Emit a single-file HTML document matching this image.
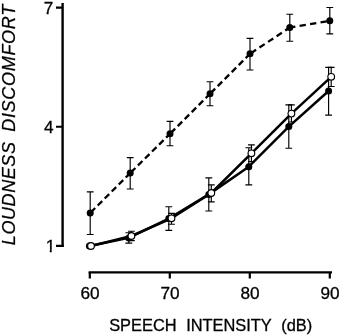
<!DOCTYPE html>
<html><head><meta charset="utf-8"><title>chart</title><style>html,body{margin:0;padding:0;background:#fff}</style></head><body>
<svg width="340" height="336" viewBox="0 0 340 336" style="display:block">
<rect width="340" height="336" fill="#fff"/>
<path d="M62.6 3V247M88.6 272.4H332" stroke="#000" stroke-width="2.4" fill="none"/>
<path d="M56 7.6H62.6M56 126.8H62.6M56 245.9H63.8" stroke="#000" stroke-width="2.1" fill="none"/>
<path d="M89.8 272.2V278.5M169.8 272.2V278.5M249.8 272.2V278.5M329.8 272.2V278.5" stroke="#000" stroke-width="2.2" fill="none"/>
<path d="M90.2 191.8V234.5M86.8 191.8H93.6M86.8 234.5H93.6" stroke="#000" stroke-width="1.15" fill="none"/>
<path d="M130.2 157.6V189.0M126.8 157.6H133.6M126.8 189.0H133.6" stroke="#000" stroke-width="1.15" fill="none"/>
<path d="M170.0 121.4V145.7M166.6 121.4H173.4M166.6 145.7H173.4" stroke="#000" stroke-width="1.15" fill="none"/>
<path d="M210.0 81.7V105.7M206.6 81.7H213.4M206.6 105.7H213.4" stroke="#000" stroke-width="1.15" fill="none"/>
<path d="M250.0 38.3V70.0M246.6 38.3H253.4M246.6 70.0H253.4" stroke="#000" stroke-width="1.15" fill="none"/>
<path d="M289.8 14.2V41.2M286.4 14.2H293.2M286.4 41.2H293.2" stroke="#000" stroke-width="1.15" fill="none"/>
<path d="M329.8 7.5V33.8M326.4 7.5H333.2M326.4 33.8H333.2" stroke="#000" stroke-width="1.15" fill="none"/>
<path d="M128.8 232.7V243.1M125.4 232.7H132.2M125.4 243.1H132.2" stroke="#000" stroke-width="1.15" fill="none"/>
<path d="M168.8 206.7V230.3M165.4 206.7H172.2M165.4 230.3H172.2" stroke="#000" stroke-width="1.15" fill="none"/>
<path d="M208.8 177.8V211.0M205.4 177.8H212.2M205.4 211.0H212.2" stroke="#000" stroke-width="1.15" fill="none"/>
<path d="M248.8 147.7V184.8M245.4 147.7H252.2M245.4 184.8H252.2" stroke="#000" stroke-width="1.15" fill="none"/>
<path d="M288.8 104.9V148.2M285.4 104.9H292.2M285.4 148.2H292.2" stroke="#000" stroke-width="1.15" fill="none"/>
<path d="M328.6 67.3V115.1M325.2 67.3H332.0M325.2 115.1H332.0" stroke="#000" stroke-width="1.15" fill="none"/>
<path d="M131.4 231.2V240.6M128.0 231.2H134.8M128.0 240.6H134.8" stroke="#000" stroke-width="1.15" fill="none"/>
<path d="M171.5 213.3V224.2M168.1 213.3H174.9M168.1 224.2H174.9" stroke="#000" stroke-width="1.15" fill="none"/>
<path d="M211.3 184.9V201.9M207.9 184.9H214.7M207.9 201.9H214.7" stroke="#000" stroke-width="1.15" fill="none"/>
<path d="M251.4 144.9V161.6M248.0 144.9H254.8M248.0 161.6H254.8" stroke="#000" stroke-width="1.15" fill="none"/>
<path d="M291.4 104.9V122.0M288.0 104.9H294.8M288.0 122.0H294.8" stroke="#000" stroke-width="1.15" fill="none"/>
<path d="M331.2 67.3V86.5M327.8 67.3H334.6M327.8 86.5H334.6" stroke="#000" stroke-width="1.15" fill="none"/>
<path d="M90.2 213.0L130.2 173.1" fill="none" stroke="#000" stroke-width="2.3" stroke-dasharray="6.3 3.6" stroke-dashoffset="-0.7"/>
<path d="M130.2 173.1L170.0 133.8" fill="none" stroke="#000" stroke-width="2.3" stroke-dasharray="6.3 3.6" stroke-dashoffset="-1.0"/>
<path d="M170.0 133.8L210.0 93.8" fill="none" stroke="#000" stroke-width="2.3" stroke-dasharray="6.3 3.6" stroke-dashoffset="-1.0"/>
<path d="M210.0 93.8L250.0 53.8" fill="none" stroke="#000" stroke-width="2.3" stroke-dasharray="6.3 3.6" stroke-dashoffset="-1.0"/>
<path d="M250.0 53.8L289.8 27.5" fill="none" stroke="#000" stroke-width="2.3" stroke-dasharray="6.3 4.0" stroke-dashoffset="-1.0"/>
<path d="M289.8 27.5L329.8 20.8" fill="none" stroke="#000" stroke-width="2.3" stroke-dasharray="6.3 4.3" stroke-dashoffset="0.65"/>
<polyline points="89.4,246.0 128.8,237.9 168.8,218.5 208.8,194.4 248.8,166.7 288.8,126.6 328.6,91.0" fill="none" stroke="#000" stroke-width="2.5" stroke-linejoin="round"/>
<polyline points="91.0,246.0 131.4,236.0 171.5,218.3 211.3,193.0 251.4,153.3 291.4,113.6 331.2,76.8" fill="none" stroke="#000" stroke-width="2.5" stroke-linejoin="round"/>
<circle cx="90.2" cy="213.0" r="3.5" fill="#000"/>
<circle cx="130.2" cy="173.1" r="3.5" fill="#000"/>
<circle cx="170.0" cy="133.8" r="3.5" fill="#000"/>
<circle cx="210.0" cy="93.8" r="3.5" fill="#000"/>
<circle cx="250.0" cy="53.8" r="3.5" fill="#000"/>
<circle cx="289.8" cy="27.5" r="3.5" fill="#000"/>
<circle cx="329.8" cy="20.8" r="3.5" fill="#000"/>
<circle cx="89.4" cy="246.0" r="3.5" fill="#000"/>
<circle cx="128.8" cy="237.9" r="3.5" fill="#000"/>
<circle cx="168.8" cy="218.5" r="3.5" fill="#000"/>
<circle cx="208.8" cy="194.4" r="3.5" fill="#000"/>
<circle cx="248.8" cy="166.7" r="3.5" fill="#000"/>
<circle cx="288.8" cy="126.6" r="3.5" fill="#000"/>
<circle cx="328.6" cy="91.0" r="3.5" fill="#000"/>
<circle cx="91.0" cy="246.0" r="3.35" fill="#fff" stroke="#000" stroke-width="1.15"/>
<circle cx="131.4" cy="236.0" r="3.35" fill="#fff" stroke="#000" stroke-width="1.15"/>
<circle cx="171.5" cy="218.3" r="3.35" fill="#fff" stroke="#000" stroke-width="1.15"/>
<circle cx="211.3" cy="193.0" r="3.35" fill="#fff" stroke="#000" stroke-width="1.15"/>
<circle cx="251.4" cy="153.3" r="3.35" fill="#fff" stroke="#000" stroke-width="1.15"/>
<circle cx="291.4" cy="113.6" r="3.35" fill="#fff" stroke="#000" stroke-width="1.15"/>
<circle cx="331.2" cy="76.8" r="3.35" fill="#fff" stroke="#000" stroke-width="1.15"/>
<text x="53.3" y="13.6" text-anchor="end" font-family="Liberation Sans, sans-serif" font-size="17.2" fill="#000" stroke="#000" stroke-width="0.3">7</text>
<text x="53.6" y="132.5" text-anchor="end" font-family="Liberation Sans, sans-serif" font-size="17.2" fill="#000" stroke="#000" stroke-width="0.3">4</text>
<clipPath id="c1"><path d="M40 230H60V249.6H51.7V254H49.8V249.6H40Z"/></clipPath>
<text x="55.4" y="251.8" text-anchor="end" clip-path="url(#c1)" font-family="Liberation Sans, sans-serif" font-size="17.2" fill="#000" stroke="#000" stroke-width="0.3">1</text>
<text x="90.1" y="298.7" text-anchor="middle" font-family="Liberation Sans, sans-serif" font-size="17.2" fill="#000" stroke="#000" stroke-width="0.3">60</text>
<text x="170.1" y="298.7" text-anchor="middle" font-family="Liberation Sans, sans-serif" font-size="17.2" fill="#000" stroke="#000" stroke-width="0.3">70</text>
<text x="250.1" y="298.7" text-anchor="middle" font-family="Liberation Sans, sans-serif" font-size="17.2" fill="#000" stroke="#000" stroke-width="0.3">80</text>
<text x="330.1" y="298.7" text-anchor="middle" font-family="Liberation Sans, sans-serif" font-size="17.2" fill="#000" stroke="#000" stroke-width="0.3">90</text>
<text x="109.2" y="330.6" font-family="Liberation Sans, sans-serif" font-size="16.4" fill="#000" stroke="#000" stroke-width="0.3">SPEECH</text>
<text x="186.2" y="330.6" font-family="Liberation Sans, sans-serif" font-size="16.4" fill="#000" stroke="#000" stroke-width="0.3">INTENSITY</text>
<text x="281.2" y="330.6" font-family="Liberation Sans, sans-serif" font-size="16.4" fill="#000" stroke="#000" stroke-width="0.3">(dB)</text>
<text transform="translate(14.9 245.2) rotate(-90)" font-family="Liberation Sans, sans-serif" font-size="18" font-style="italic" fill="#000" stroke="#000" stroke-width="0.25" letter-spacing="0.58">LOUDNESS</text>
<text transform="translate(14.9 131.8) rotate(-90)" font-family="Liberation Sans, sans-serif" font-size="18" font-style="italic" fill="#000" stroke="#000" stroke-width="0.25" letter-spacing="0.70">DISCOMFORT</text>
</svg>
</body></html>
